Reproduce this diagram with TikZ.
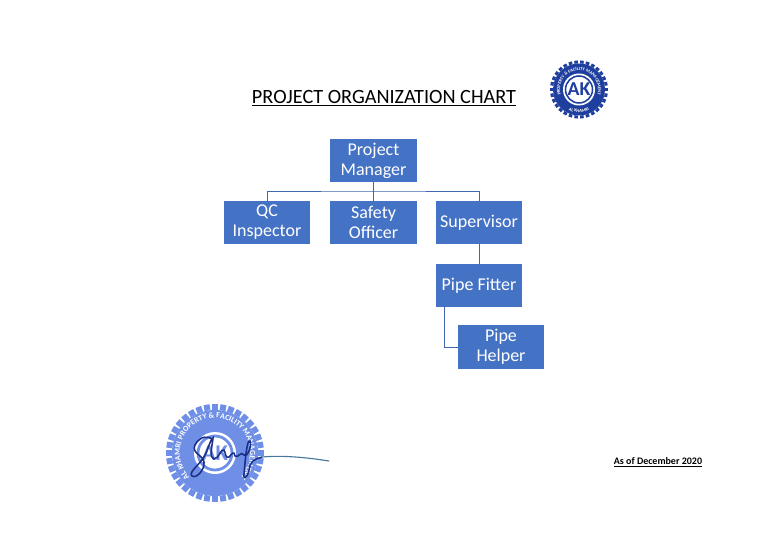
\documentclass[tikz,border=0pt]{standalone}
\usepackage{fontspec}
\setmainfont{Carlito}
\usepackage{xcolor}
\usetikzlibrary{decorations.text}
\definecolor{boxblue}{HTML}{4472C4}
\definecolor{linkblue}{HTML}{3F67AE}
\definecolor{logoblue}{HTML}{1F3F9F}
\definecolor{sealblue}{HTML}{6F8FE6}
\definecolor{inkblue}{HTML}{1B2F86}
\definecolor{tailblue}{HTML}{47779C}
\tikzset{
  rolebox/.style={fill=boxblue,text=white,minimum width=2.15cm,minimum height=1.075cm,inner sep=0pt,align=center,font=\fontsize{12.8}{14.2}\selectfont},
  link/.style={draw=linkblue,line width=0.7pt}
}
\begin{document}
\begin{tikzpicture}[x=0.025cm,y=-0.025cm]
  \useasboundingbox (0,0) rectangle (768,543);
  % title
  \node[font=\fontsize{14.4}{16}\selectfont] (title) at (384,98.5) {\underline{PROJECT ORGANIZATION CHART}};
  \node[font=\fontsize{7.1}{8}\selectfont\bfseries] (asof) at (658,462) {\underline{As of December 2020}};
  % boxes
  \node[rolebox] (manager) at (373.5,160.5) {Project\\Manager};
  \node[rolebox] (qc) at (267,222.5) {QC\\Inspector};
  \node[rolebox] (safety) at (373.5,222.5) {Safety\\Officer};
  \node[rolebox] (supervisor) at (479,222.5) {Supervisor};
  \node[rolebox] (fitter) at (479,285.5) {Pipe Fitter};
  \node[rolebox] (helper) at (501,347) {Pipe\\Helper};
  % connectors
  \coordinate (bus) at (373.5,191);
  \coordinate (tap) at (444,307);
  \draw[link] (manager.south) -- (safety.north);
  \draw[link] (qc.north) |- (bus) -| (supervisor.north);
  \draw[link] (supervisor.south) -- (fitter.north);
  \draw[link] (tap) |- (helper.west);
  % logo
  \fill[logoblue] (579,89.5) circle (26);
  \foreach \a in {0,12,...,348}
    \fill[logoblue] (579,89.5) ++(\a:26) ++(\a+90:1.8) -- ++(\a:3) -- ++(\a-90:3.6) -- ++(\a:-3) -- cycle;
  \path[decorate,decoration={text along path,text align=center,text={|\fontsize{3.2}{4}\selectfont\bfseries\color{white}|PROPERTY {\&} FACILITY MANAGEMENT}}] (579,89.5) ++(160:19) arc[start angle=160,end angle=380,radius=19];
  \path[decorate,decoration={text along path,text align=center,text={|\fontsize{3.2}{4}\selectfont\bfseries\color{white}|AL KHAMRI}}] (579,89.5) ++(130:23) arc[start angle=130,end angle=50,radius=23];
  \fill[white] (579,89.5) circle (16);
  \draw[logoblue,line width=1.1pt] (579,89.5) circle (13.5);
  \node[text=logoblue,font=\fontsize{14}{14}\selectfont\bfseries] (logotext) at (579,89.5) {AK};
  % seal
  \fill[sealblue] (215,453) circle (43);
  \foreach \a in {0,10,...,350}
    \fill[sealblue] (215,453) ++(\a:43) ++(\a+90:3) -- ++(\a:6) -- ++(\a-90:6) -- ++(\a:-6) -- cycle;
  \path[decorate,decoration={text along path,text align=center,text={|\fontsize{5.6}{7}\selectfont\bfseries\color{white}|AL KHAMRI PROPERTY {\&} FACILITY MANAGEMENT}}] (215,453) ++(130:35) arc[start angle=130,end angle=410,radius=35];
  \fill[white] (215,453) circle (21);
  \draw[sealblue,line width=2pt] (215,453) circle (17);
  \node[text=sealblue,font=\fontsize{16}{16}\selectfont\bfseries] (sealtext) at (215,453) {AK};
  % signature
  \draw[inkblue,line width=1.1pt,line cap=round] (213,440) .. controls (208,435) and (200,436) .. (195,445) .. controls (191,453) and (203,455) .. (204,462) .. controls (205,470) and (196,479) .. (192,476) .. controls (188,472) and (200,465) .. (205,455) .. controls (209,447) and (210,440) .. (213,438) .. controls (212,447) and (209,458) .. (214,459) .. controls (219,459) and (221,448) .. (224,450) .. controls (226,453) and (225,459) .. (229,457) .. controls (232,454) and (234,450) .. (235,456) .. controls (238,459) and (241,450) .. (244,455) .. controls (247,458) and (252,447) .. (250,441) .. controls (247,438) and (245,462) .. (244,474) .. controls (243,480) and (247,479) .. (249,470) .. controls (250,463) and (252,460) .. (262,457);
  \draw[tailblue,line width=0.8pt,line cap=round] (262,457) .. controls (285,455) and (310,458) .. (329,461);
\end{tikzpicture}
\end{document}
